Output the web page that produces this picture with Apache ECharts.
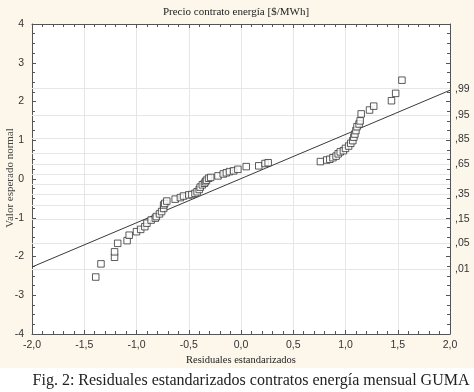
<!DOCTYPE html>
<html><head><meta charset="utf-8">
<script src="https://cdn.jsdelivr.net/npm/echarts@6/dist/echarts.min.js"></script>
<style>html,body{margin:0;padding:0;background:#fff}#c{width:474px;height:392px}</style>
</head><body><div id="c"></div>
<script>
// Residual data (standardized residual, expected normal value)
var resX = [-1.39,-1.34,-1.21,-1.21,-1.18,-1.09,-1.07,-1.00,-0.96,-0.92,-0.90,-0.86,-0.82,-0.81,-0.78,-0.76,-0.74,-0.74,-0.73,-0.71,-0.63,-0.58,-0.55,-0.50,-0.47,-0.44,-0.42,-0.40,-0.39,-0.37,-0.35,-0.34,-0.33,-0.31,-0.29,-0.22,-0.17,-0.14,-0.11,-0.07,-0.03,0.05,0.17,0.23,0.26,
            0.76,0.82,0.85,0.88,0.91,0.93,0.95,0.98,1.00,1.03,1.05,1.07,1.08,1.09,1.10,1.11,1.13,1.14,1.15,1.23,1.27,1.44,1.48,1.54];
var resZ = [-2.53,-2.19,-2.02,-1.88,-1.66,-1.59,-1.45,-1.36,-1.30,-1.23,-1.14,-1.06,-1.01,-0.97,-0.90,-0.84,-0.76,-0.67,-0.63,-0.57,-0.52,-0.48,-0.44,-0.41,-0.40,-0.37,-0.33,-0.27,-0.21,-0.15,-0.11,-0.07,-0.03,0.02,0.04,0.08,0.13,0.16,0.19,0.21,0.25,0.32,0.34,0.40,0.42,
            0.45,0.49,0.51,0.55,0.59,0.65,0.70,0.73,0.79,0.85,0.92,0.99,1.08,1.16,1.25,1.35,1.42,1.50,1.68,1.78,1.88,2.02,2.21,2.55];
// Fitted reference line
var lineX = [-2.0, 2.0];
var lineZ = [-2.27, 2.29];
// Right-axis probability ticks
var probLabels = [',01', ',05', ',15', ',25', ',35', ',45', ',55', ',65', ',75', ',85', ',95', ',99'];
var probZ = [-2.326, -1.645, -1.036, -0.674, -0.385, -0.126, 0.126, 0.385, 0.674, 1.036, 1.645, 2.326];
var probShown = [',01', ',05', ',15', ',35', ',65', ',85', ',95', ',99'];
// Tick settings
var xTicks = {min: -2, max: 2, interval: 0.5};
var yTicks = {min: -4, max: 4, interval: 1};

var chart = echarts.init(document.getElementById('c'));
var pts = resX.map(function (x, i) { return [x, resZ[i]]; });
var lpts = lineX.map(function (x, i) { return [x, lineZ[i]]; });
var gridLines = probZ.map(function (z, i) {
  return {yAxis: z, label: {show: probShown.indexOf(probLabels[i]) >= 0, formatter: probLabels[i]}};
});
var sans = 'Liberation Sans';
var axCol = '#555';

chart.setOption({
  animation: false,
  backgroundColor: '#ffffff',
  graphic: [
    {type: 'rect', z: -10, shape: {x: 0, y: 0, width: 474, height: 368}, style: {fill: '#fcf7ea'}},
    {type: 'rect', z: -9, shape: {x: 32, y: 24, width: 418, height: 310}, style: {fill: '#ffffff'}},
    {type: 'text', x: 236, y: 12, style: {text: 'Precio contrato energía [$/MWh]', font: '11px "Liberation Serif"', fill: '#222', align: 'center', verticalAlign: 'middle'}},
    {type: 'text', x: 241, y: 360, style: {text: 'Residuales estandarizados', font: '10.5px "Liberation Serif"', fill: '#222', align: 'center', verticalAlign: 'middle'}},
    {type: 'text', x: 10, y: 178, rotation: Math.PI / 2, style: {text: 'Valor esperado normal', font: '11px "Liberation Serif"', fill: '#444', align: 'center', verticalAlign: 'middle'}},
    {type: 'text', x: 251, y: 381, style: {text: 'Fig. 2: Residuales estandarizados contratos energía mensual GUMA', font: '16px "Liberation Serif"', fill: '#222', align: 'center', verticalAlign: 'middle'}}
  ],
  grid: {left: 32, right: 24, top: 24, bottom: 58, containLabel: false},
  xAxis: [{
    type: 'value', min: xTicks.min, max: xTicks.max, interval: xTicks.interval, position: 'bottom',
    axisLine: {show: true, onZero: false, lineStyle: {color: axCol, width: 1}},
    axisTick: {show: true, inside: true, length: 4, lineStyle: {color: axCol}},
    minorTick: {show: true, splitNumber: 5, length: 3, lineStyle: {color: axCol}},
    axisLabel: {color: '#333', fontFamily: sans, fontSize: 10.5, margin: 6, formatter: function (v) { return v.toFixed(1).replace('.', ','); }},
    splitLine: {show: true, lineStyle: {color: '#e6e6e6', width: 1}}
  }, {
    type: 'value', min: xTicks.min, max: xTicks.max, interval: xTicks.interval, position: 'top',
    axisLine: {show: true, onZero: false, lineStyle: {color: axCol, width: 1}},
    axisTick: {show: true, inside: true, length: 4, lineStyle: {color: axCol}},
    minorTick: {show: true, splitNumber: 5, length: 3, lineStyle: {color: axCol}},
    axisLabel: {show: false}, splitLine: {show: false}
  }],
  yAxis: [{
    type: 'value', min: yTicks.min, max: yTicks.max, interval: yTicks.interval, position: 'left',
    axisLine: {show: true, onZero: false, lineStyle: {color: axCol, width: 1}},
    axisTick: {show: true, inside: true, length: 4, lineStyle: {color: axCol}},
    minorTick: {show: true, splitNumber: 4, length: 3, lineStyle: {color: axCol}},
    axisLabel: {color: '#333', fontFamily: sans, fontSize: 10.5, margin: 8},
    splitLine: {show: false}
  }, {
    type: 'value', min: yTicks.min, max: yTicks.max, interval: yTicks.interval, position: 'right',
    axisLine: {show: true, onZero: false, lineStyle: {color: axCol, width: 1}},
    axisTick: {show: true, inside: true, length: 4, lineStyle: {color: axCol}},
    minorTick: {show: true, splitNumber: 4, length: 3, lineStyle: {color: axCol}},
    axisLabel: {show: false}, splitLine: {show: false}
  }],
  series: [{
    type: 'line', xAxisIndex: 0, yAxisIndex: 1, data: [], z: 1, silent: true,
    markLine: {
      silent: true, symbol: ['none', 'none'], z: 1,
      lineStyle: {color: '#e6e6e6', type: 'solid', width: 1},
      label: {position: 'end', distance: 5, color: '#333', fontFamily: sans, fontSize: 10.5},
      data: gridLines
    }
  }, {
    type: 'line', xAxisIndex: 0, yAxisIndex: 0, data: lpts, showSymbol: false, symbol: 'none', z: 3,
    lineStyle: {color: '#3a3a3a', width: 1}
  }, {
    type: 'scatter', xAxisIndex: 0, yAxisIndex: 0, data: pts, symbol: 'rect', symbolSize: 6.5, z: 4,
    itemStyle: {color: '#ffffff', borderColor: '#333', borderWidth: 1}
  }]
});
</script></body></html>
